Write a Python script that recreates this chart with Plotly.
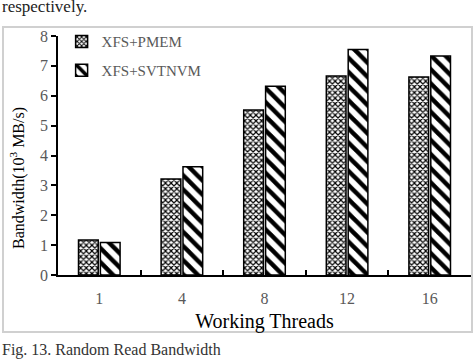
import plotly.graph_objects as go

threads = ["1", "4", "8", "12", "16"]
pmem = [1.17, 3.21, 5.52, 6.66, 6.63]
svtnvm = [1.09, 3.62, 6.32, 7.55, 7.33]
y_ticks = [0, 1, 2, 3, 4, 5, 6, 7, 8]

serif = "Times New Roman, Liberation Serif, DejaVu Serif, serif"
gray = "#595959"

fig = go.Figure()
fig.add_trace(go.Bar(
    x=threads, y=pmem, name="XFS+PMEM", legend="legend",
    marker=dict(color="white", line=dict(color="black", width=1.5),
                pattern=dict(shape="x", fgcolor="black", bgcolor="white",
                             size=4, solidity=0.5, fillmode="replace")),
))
fig.add_trace(go.Bar(
    x=threads, y=svtnvm, name="XFS+SVTNVM", legend="legend2",
    marker=dict(color="white", line=dict(color="black", width=1.5),
                pattern=dict(shape="\\", fgcolor="black", bgcolor="white",
                             size=10, solidity=0.45, fillmode="replace")),
))

fig.update_layout(
    template="none",
    width=474, height=360,
    margin=dict(l=0, r=0, t=0, b=0, autoexpand=False),
    paper_bgcolor="white", plot_bgcolor="white",
    barmode="group", bargap=0.47, bargroupgap=0.1,
    font=dict(family=serif, color=gray, size=14),
    xaxis=dict(
        type="category",
        domain=[58 / 474, 471 / 474], anchor="y", automargin=False,
        showline=True, linecolor="black", linewidth=1.5,
        ticks="inside", tickson="boundaries", ticklen=5, tickcolor="black", tickwidth=1.5,
        tickfont=dict(family=serif, color=gray, size=16), ticklabelstandoff=8,
        title=dict(text="Working Threads", font=dict(family=serif, color="black", size=20), standoff=8),
        showgrid=False, zeroline=False, fixedrange=True,
    ),
    yaxis=dict(
        domain=[(360 - 275) / 360, (360 - 36) / 360], anchor="x", automargin=False,
        range=[0, 8], tickvals=y_ticks,
        showline=True, linecolor="black", linewidth=1.5,
        ticks="outside", ticklen=5, tickcolor="black", tickwidth=1.5,
        tickfont=dict(family=serif, color=gray, size=16),
        showgrid=False, zeroline=False, fixedrange=True,
    ),
    legend=dict(x=0.13, y=0.93, xanchor="left", yanchor="top",
                bgcolor="rgba(0,0,0,0)", font=dict(family=serif, color=gray, size=15)),
    legend2=dict(x=0.13, y=0.85, xanchor="left", yanchor="top",
                 bgcolor="rgba(0,0,0,0)", font=dict(family=serif, color=gray, size=15)),
    showlegend=True,
)

fig.add_shape(type="rect", xref="paper", yref="paper",
              x0=3 / 474, x1=472 / 474, y0=(360 - 332) / 360, y1=(360 - 27) / 360,
              line=dict(color="#d0d0d0", width=2), fillcolor="rgba(0,0,0,0)", layer="below")

fig.add_annotation(text="Bandwidth(10<sup>3</sup> MB/s)", xref="paper", yref="paper",
                   x=17 / 474, y=(360 - 178) / 360, textangle=-90,
                   xanchor="center", yanchor="middle", showarrow=False,
                   font=dict(family=serif, color="black", size=16))
fig.add_annotation(text="respectively.", xref="paper", yref="paper", x=0, y=(360 - 6) / 360,
                   xanchor="left", yanchor="middle", showarrow=False,
                   font=dict(family=serif, color="#222", size=17))
fig.add_annotation(text="Fig. 13. Random Read Bandwidth", xref="paper", yref="paper", x=0, y=(360 - 350) / 360,
                   xanchor="left", yanchor="middle", showarrow=False,
                   font=dict(family=serif, color="#333", size=16))

fig.write_html("out.html")
